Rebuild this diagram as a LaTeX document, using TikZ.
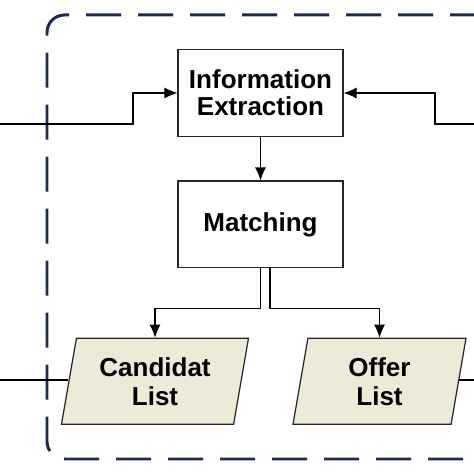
\documentclass[tikz,border=0pt]{standalone}
\usepackage{fontspec}
\setmainfont{Liberation Sans}
\usepackage{tikz}
\usetikzlibrary{calc, shapes.geometric, arrows.meta}
\definecolor{lbeige}{HTML}{EEEADA}
\definecolor{dnavy}{HTML}{1F2A4F}

\begin{document}
\begin{tikzpicture}[
    BOX/.style={rectangle, draw=black!85, line width=0.7pt, minimum width=3.3cm, minimum height=1.73cm, font=\fontsize{14.8}{15.5}\selectfont\bfseries},
    LST/.style={trapezium, trapezium left angle=76, trapezium right angle=104, trapezium stretches body, draw=black!85, line width=0.7pt, fill=lbeige, minimum height=1.72cm, font=\fontsize{14.8}{16.5}\selectfont\bfseries},
    FLOW/.style={line width=0.6pt, -{Latex[length=2.6mm,width=2.2mm]}},
    SYS/.style={draw=dnavy, line width=1.7pt, dash pattern=on 0.7cm off 0.34cm, rounded corners=0.35cm}
    ]
        \useasboundingbox (0,0) rectangle (9.48,9.48);
        \draw[SYS] (9.7,9.18) -- (0.94,9.18) -- (0.94,0.30) -- (9.7,0.30);
        \node[BOX] (IE) at (5.21,7.62) {\parbox{3cm}{\centering Information\\Extraction}};
        \node[BOX] (M) at ($(IE.south)+(0,-1.75)$) {Matching};
        \draw[FLOW] (IE.south) -- (M.north);
        \node[LST, minimum width=3.74cm] (CL) at ($(M.south)+(-2.11,-2.26)$) {\parbox{2.5cm}{\centering Candidat\\List}};
        \node[LST, minimum width=3.46cm] (OL) at ($(M.south)+(2.38,-2.26)$) {\parbox{2.5cm}{\centering Offer\\List}};
        \draw[FLOW] (M.south) -- ++(0,-0.8) -| (CL.north);
        \draw[FLOW] ($(M.south)+(0.19,0)$) -- ++(0,-0.8) -| (OL.north);
        % inputs and outputs
        \coordinate (inL) at (0,7.0);
        \coordinate (inR) at (9.48,7.0);
        \coordinate (outL) at (0,1.88);
        \coordinate (outR) at (9.48,1.88);
        \draw[FLOW] (inL) -- ++(2.66,0) |- (IE.west);
        \draw[FLOW] (inR) -- ++(-0.78,0) |- (IE.east);
        \draw[line width=0.6pt] (outL) -- (outL -| CL.west);
        \draw[line width=0.6pt] (outR -| OL.east) -- (outR);
    \end{tikzpicture}
\end{document}
